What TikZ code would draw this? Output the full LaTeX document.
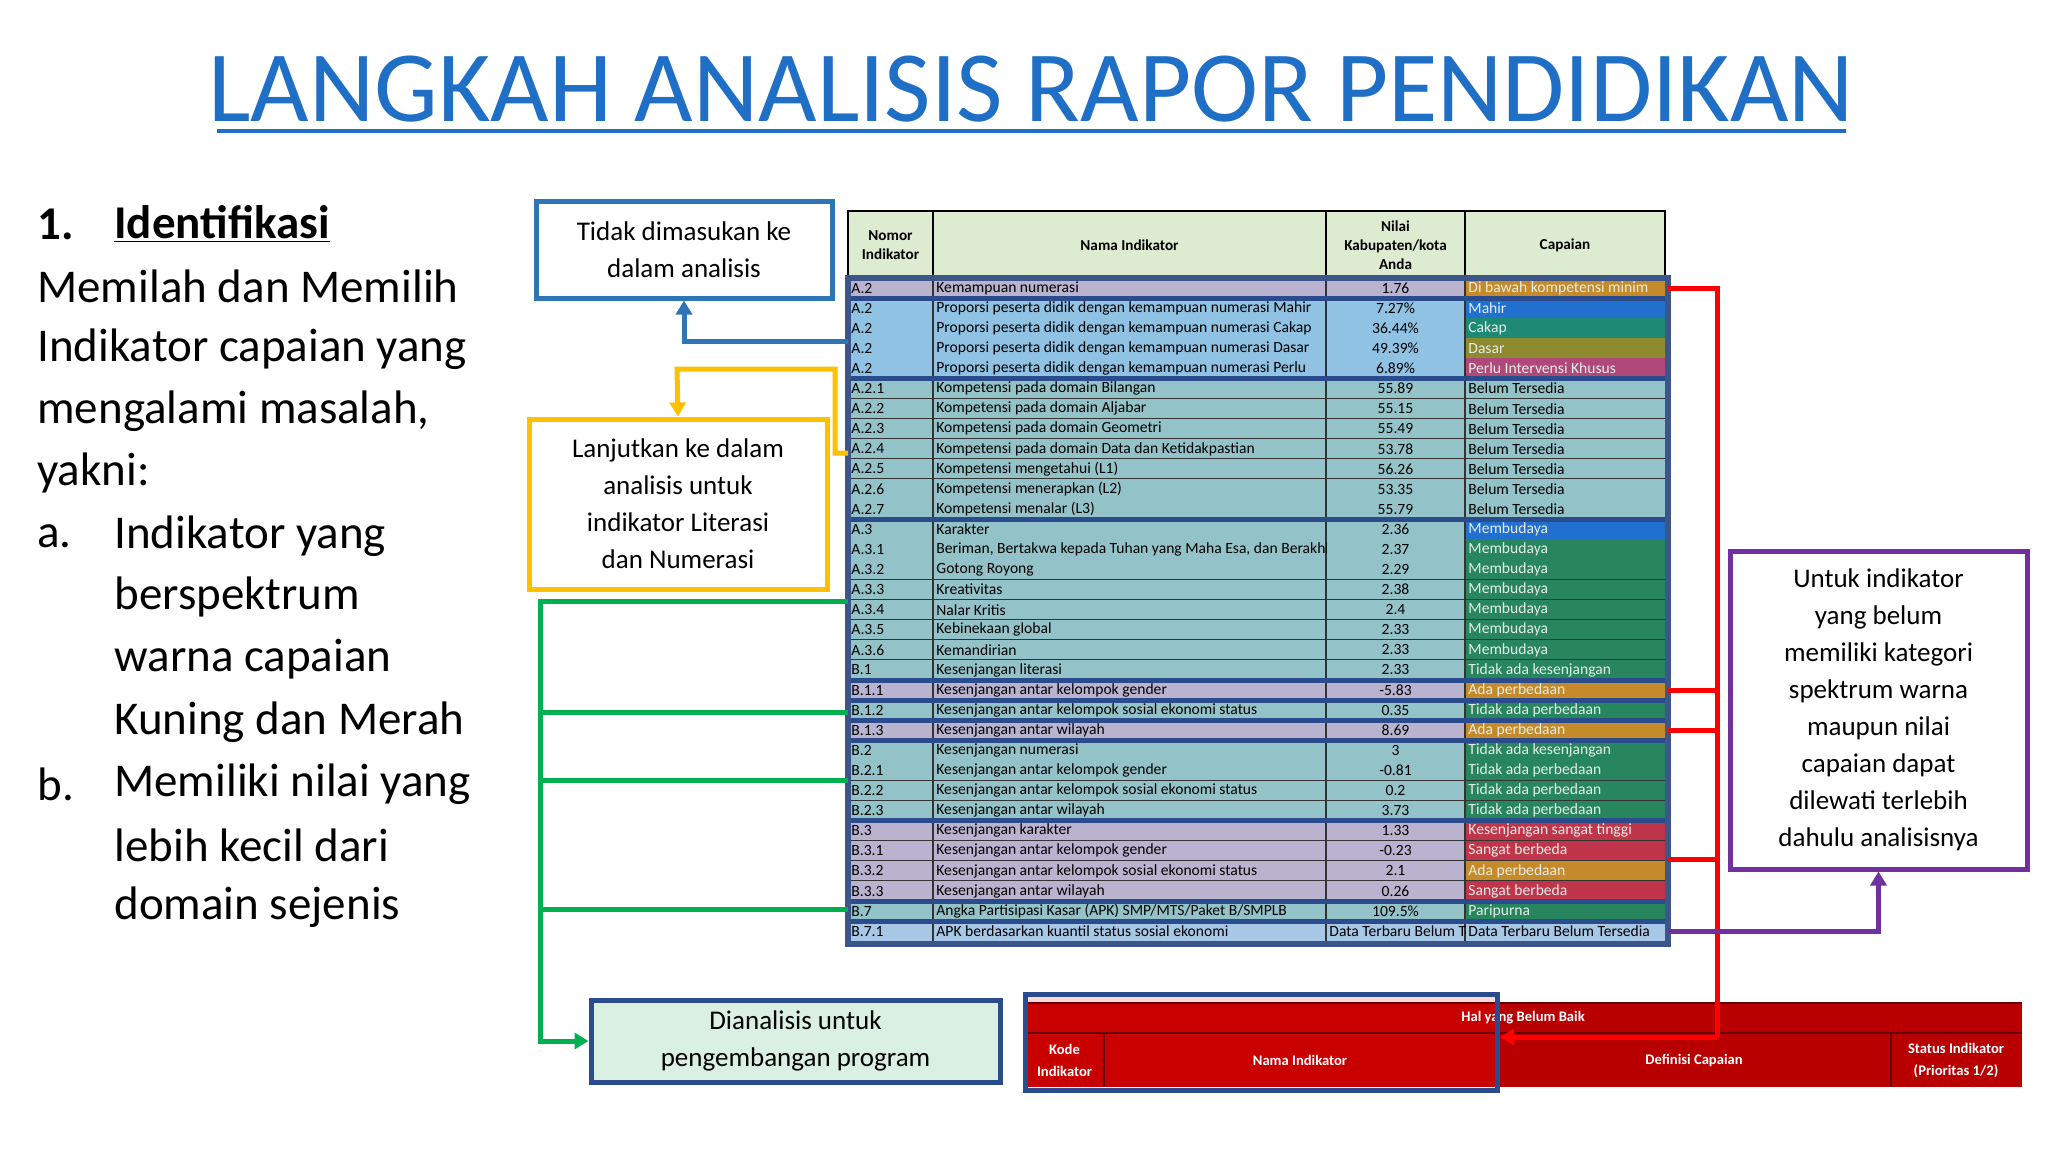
\documentclass[tikz,border=0pt]{standalone}
\usepackage{fontspec}
\setmainfont{Carlito}
\usetikzlibrary{arrows.meta}
\definecolor{ttl}{HTML}{1F6FC6}
\definecolor{rLav}{HTML}{B9B3CF}
\definecolor{rBlu}{HTML}{8FC2E3}
\definecolor{rTea}{HTML}{93C3C9}
\definecolor{rB}{HTML}{A6C8E6}
\definecolor{hdr}{HTML}{DDEBD0}
\definecolor{grp}{HTML}{2B4C8C}
\definecolor{cOr}{HTML}{C58A2A}
\definecolor{cBl}{HTML}{2170D0}
\definecolor{cTe}{HTML}{1E8A74}
\definecolor{cOl}{HTML}{8D8A30}
\definecolor{cMa}{HTML}{B0487A}
\definecolor{cRe}{HTML}{C0354A}
\definecolor{cGr}{HTML}{27865E}
\definecolor{tLt}{HTML}{E4EEE8}
\definecolor{cYe}{HTML}{FFC000}
\definecolor{cGn}{HTML}{00B050}
\definecolor{cPu}{HTML}{7030A0}
\definecolor{cLb}{HTML}{2E75B6}
\definecolor{dGr}{HTML}{D9F0E3}
\definecolor{bRed}{HTML}{C80000}
\definecolor{bRed2}{HTML}{B80000}
\tikzset{
  lefttxt/.style={anchor=west,font=\fontsize{23.5}{28}\selectfont,inner sep=0},
  callout/.style={draw,line width=2.5pt,align=center,font=\fontsize{13.5}{18.5}\selectfont,inner sep=0},
  cell/.style={anchor=west,font=\fontsize{7.8}{8}\selectfont,inner sep=0},
  ccell/.style={font=\fontsize{7.8}{8}\selectfont,inner sep=0},
  hcell/.style={font=\bfseries\fontsize{7.6}{9.5}\selectfont,align=center,inner sep=0},
  conn/.style={line width=2.5pt},
  tip/.style={-{Triangle[length=7pt,width=8pt]}},
  wcell/.style={text=white,font=\bfseries\fontsize{7.3}{11}\selectfont,align=center,inner sep=0}
}
\begin{document}
\begin{tikzpicture}[x=0.5pt,y=-0.5pt]
\useasboundingbox (0,0) rectangle (2048,1152);
\fill[white] (0,0) rectangle (2048,1152);
% title
\node[text=ttl,font=\fontsize{50.5}{52}\selectfont,inner sep=0] (title) at (1031,89) {LANGKAH ANALISIS RAPOR PENDIDIKAN};
\draw[ttl,line width=2pt] (217,131) -- (1846,131);
% left text
\node[lefttxt,font=\bfseries\fontsize{23.5}{28}\selectfont] (l0) at (37,224) {1.};
\node[lefttxt,font=\bfseries\fontsize{23.5}{28}\selectfont] (l0b) at (114,224) {\underline{Identifikasi}};
\node[lefttxt] (l1) at (37,286) {Memilah dan Memilih};
\node[lefttxt] (l2) at (37,349) {Indikator capaian yang};
\node[lefttxt] (l3) at (37,411) {mengalami masalah,};
\node[lefttxt] (l4) at (37,473) {yakni:};
\node[lefttxt] (l5a) at (37,536) {a.};
\node[lefttxt] (l5) at (114,536) {Indikator yang};
\node[lefttxt] (l6) at (114,597) {berspektrum};
\node[lefttxt] (l7) at (114,659) {warna capaian};
\node[lefttxt] (l8) at (114,722) {Kuning dan Merah};
\node[lefttxt] (l9a) at (37,784) {b.};
\node[lefttxt] (l9) at (114,784) {Memiliki nilai yang};
\node[lefttxt] (l10) at (114,845) {lebih kecil dari};
\node[lefttxt] (l11) at (114,907) {domain sejenis};
% callouts (sizes in pt = px/2)
\node[callout,draw=cLb,minimum width=148pt,minimum height=48.5pt] (tidak) at (684,249.5) {Tidak dimasukan ke\\dalam analisis};
\node[callout,draw=cYe,minimum width=149pt,minimum height=85pt] (lanjut) at (678,504) {Lanjutkan ke dalam\\analisis untuk\\indikator Literasi\\dan Numerasi};
\node[callout,draw=grp,fill=dGr,minimum width=204.5pt,minimum height=41pt] (dian) at (795.5,1041) {Dianalisis untuk\\pengembangan program};
\node[callout,draw=cPu,minimum width=148.5pt,minimum height=159pt] (untuk) at (1878.5,710) {Untuk indikator\\yang belum\\memiliki kategori\\spektrum warna\\maupun nilai\\capaian dapat\\dilewati terlebih\\dahulu analisisnya};
% table header
\fill[hdr] (848,211) rectangle (1665,278);
\draw[line width=1.2pt] (848,211) rectangle (1665,278);
\foreach \xx in {933,1326,1465} \draw[line width=0.8pt] (\xx,211) -- (\xx,278);
\node[hcell] (h1) at (890.5,245) {Nomor\\Indikator};
\node[hcell] (h2) at (1129.5,245) {Nama Indikator};
\node[hcell] (h3) at (1395.5,245) {Nilai\\Kabupaten/kota\\Anda};
\node[hcell] (h4) at (1565,245) {Capaian};
% rows
\foreach \ii/\na/\nb/\nc/\nd/\re/\ce/\te in {
0/A.2/Kemampuan numerasi/1.76/Di bawah kompetensi minim/rLav/cOr/tLt,
1/A.2/Proporsi peserta didik dengan kemampuan numerasi Mahir/7.27\%/Mahir/rBlu/cBl/tLt,
2/A.2/Proporsi peserta didik dengan kemampuan numerasi Cakap/36.44\%/Cakap/rBlu/cTe/tLt,
3/A.2/Proporsi peserta didik dengan kemampuan numerasi Dasar/49.39\%/Dasar/rBlu/cOl/tLt,
4/A.2/Proporsi peserta didik dengan kemampuan numerasi Perlu/6.89\%/Perlu Intervensi Khusus/rBlu/cMa/tLt,
5/A.2.1/Kompetensi pada domain Bilangan/55.89/Belum Tersedia/rTea/rTea/black,
6/A.2.2/Kompetensi pada domain Aljabar/55.15/Belum Tersedia/rTea/rTea/black,
7/A.2.3/Kompetensi pada domain Geometri/55.49/Belum Tersedia/rTea/rTea/black,
8/A.2.4/Kompetensi pada domain Data dan Ketidakpastian/53.78/Belum Tersedia/rTea/rTea/black,
9/A.2.5/Kompetensi mengetahui (L1)/56.26/Belum Tersedia/rTea/rTea/black,
10/A.2.6/Kompetensi menerapkan (L2)/53.35/Belum Tersedia/rTea/rTea/black,
11/A.2.7/Kompetensi menalar (L3)/55.79/Belum Tersedia/rTea/rTea/black,
12/A.3/Karakter/2.36/Membudaya/rTea/cBl/tLt,
13/A.3.1/{Beriman, Bertakwa kepada Tuhan yang Maha Esa, dan Berakhlak}/2.37/Membudaya/rTea/cGr/tLt,
14/A.3.2/Gotong Royong/2.29/Membudaya/rTea/cGr/tLt,
15/A.3.3/Kreativitas/2.38/Membudaya/rTea/cGr/tLt,
16/A.3.4/Nalar Kritis/2.4/Membudaya/rTea/cGr/tLt,
17/A.3.5/Kebinekaan global/2.33/Membudaya/rTea/cGr/tLt,
18/A.3.6/Kemandirian/2.33/Membudaya/rTea/cGr/tLt,
19/B.1/Kesenjangan literasi/2.33/Tidak ada kesenjangan/rTea/cGr/tLt,
20/B.1.1/Kesenjangan antar kelompok gender/-5.83/Ada perbedaan/rLav/cOr/tLt,
21/B.1.2/Kesenjangan antar kelompok sosial ekonomi status/0.35/Tidak ada perbedaan/rTea/cGr/tLt,
22/B.1.3/Kesenjangan antar wilayah/8.69/Ada perbedaan/rLav/cOr/tLt,
23/B.2/Kesenjangan numerasi/3/Tidak ada kesenjangan/rTea/cGr/tLt,
24/B.2.1/Kesenjangan antar kelompok gender/-0.81/Tidak ada perbedaan/rTea/cGr/tLt,
25/B.2.2/Kesenjangan antar kelompok sosial ekonomi status/0.2/Tidak ada perbedaan/rTea/cGr/tLt,
26/B.2.3/Kesenjangan antar wilayah/3.73/Tidak ada perbedaan/rTea/cGr/tLt,
27/B.3/Kesenjangan karakter/1.33/Kesenjangan sangat tinggi/rLav/cRe/tLt,
28/B.3.1/Kesenjangan antar kelompok gender/-0.23/Sangat berbeda/rLav/cRe/tLt,
29/B.3.2/Kesenjangan antar kelompok sosial ekonomi status/2.1/Ada perbedaan/rLav/cOr/tLt,
30/B.3.3/Kesenjangan antar wilayah/0.26/Sangat berbeda/rLav/cRe/tLt,
31/B.7/{Angka Partisipasi Kasar (APK) SMP/MTS/Paket B/SMPLB}/109.5\%/Paripurna/rTea/cGr/tLt,
32/B.7.1/APK berdasarkan kuantil status sosial ekonomi/Data Terbaru Belum Tersedia/Data Terbaru Belum Tersedia/rB/rB/black}{
  \pgfmathsetmacro{\yt}{278+20.1*\ii}
  \pgfmathsetmacro{\yb}{278+20.1*(\ii+1)}
  \pgfmathsetmacro{\ym}{278+20.1*(\ii+0.5)}
  \fill[\re] (848,\yt) rectangle (1465,\yb);
  \fill[\ce] (1465,\yt) rectangle (1665,\yb);
  \draw[black!80,line width=0.6pt] (848,\yb) -- (1665,\yb);
  \foreach \xx in {933,1326,1465} \draw[black!80,line width=0.6pt] (\xx,\yt) -- (\xx,\yb);
  \node[cell] (a\ii) at (851,\ym) {\na};
  \begin{scope}
    \clip (933,\yt) rectangle (1326,\yb);
    \node[cell] (b\ii) at (936,\ym) {\nb};
  \end{scope}
  \begin{scope}
    \clip (1326,\yt) rectangle (1465,\yb);
    \ifnum\ii=32
      \node[cell] (c\ii) at (1329,\ym) {\nc};
    \else
      \node[ccell] (c\ii) at (1395.5,\ym) {\nc};
    \fi
  \end{scope}
  \begin{scope}
    \clip (1465,\yt) rectangle (1665,\yb);
    \node[cell,text=\te] (d\ii) at (1468,\ym) {\nd};
  \end{scope}
}
% thick group lines
\foreach \k in {0,1,5,12,20,21,22,23,27,31,32}
  \draw[grp,line width=2.5pt] (848,{278+20.1*\k}) -- (1665,{278+20.1*\k});
\draw[grp!80!gray,line width=3pt] (848,278) rectangle (1668,944);
% connector coordinates
\coordinate (pBl) at (848,341);
\coordinate (pYe) at (848,453);
\coordinate (pG1) at (848,601);
\coordinate (pG2) at (848,712);
\coordinate (pG3) at (848,780);
\coordinate (pG4) at (848,909);
\coordinate (pR1) at (1668,288);
\coordinate (pR2) at (1668,690);
\coordinate (pR3) at (1668,730);
\coordinate (pR4) at (1668,859);
\coordinate (pPu) at (1668,931);
% bottom red table
\fill[bRed] (1025,1003) rectangle (2022,1033);
\fill[bRed2] (1497,1003) rectangle (2022,1033);
\fill[bRed] (1025,1033) rectangle (2022,1087);
\fill[bRed2] (1497,1033) rectangle (2022,1087);
\fill[red!15] (1028,997) rectangle (1495,1003);
\draw[black!60!red,line width=1pt] (1025,1003) -- (2022,1003) (1025,1033) -- (2022,1033);
\draw[black!60!red,line width=0.8pt] (1104,1033) -- (1104,1087) (1891,1033) -- (1891,1087);
\node[wcell] (hal) at (1523,1018) {Hal yang Belum Baik};
\node[wcell] (kode) at (1064.5,1060) {Kode\\Indikator};
\node[wcell] (nama) at (1300,1060) {Nama Indikator};
\node[wcell] (defn) at (1694,1060) {Definisi Capaian};
\node[wcell] (stat) at (1956,1060) {Status Indikator\\(Prioritas 1/2)};
\node[draw=grp,line width=2.5pt,minimum width=236pt,minimum height=48pt,inner sep=0] (redbox) at (1261,1042) {};
% connectors
\draw[conn,cLb,tip] (pBl) -| (tidak.south);
\draw[conn,cYe,tip] (pYe) -- ++(-13,0) |- (677,369) -- (lanjut.north);
\coordinate (gc) at (540,1041);
\draw[conn,cGn,tip] (pG1) -- (540,601) -- (gc) -- (dian.west);
\foreach \p in {pG2,pG3,pG4} \draw[conn,cGn] (\p) -- (540,0 |- \p);
\draw[conn,red] (pR1) -- (1717,288) -- (1717,1037);
\foreach \p in {pR2,pR3,pR4} \draw[conn,red] (\p) -- (1717,0 |- \p);
\draw[conn,red,tip] (1717,1037) -- (1500,1037);
\draw[conn,cPu,tip] (pPu) -| (untuk.south);
\end{tikzpicture}
\end{document}
